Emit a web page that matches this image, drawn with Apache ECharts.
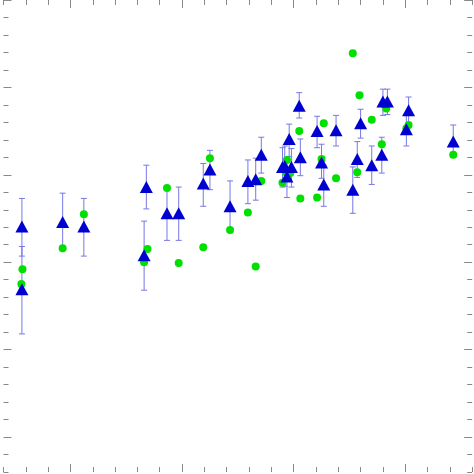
<!DOCTYPE html>
<html><head><meta charset="utf-8">
<script src="https://cdn.jsdelivr.net/npm/echarts@6/dist/echarts.min.js"></script>
<style>html,body{margin:0;padding:0;background:#fff}#c{width:474px;height:474px}</style>
</head><body><div id="c"></div>
<script>
// blue triangles with error bars: x, y, upper, lower
const triX  = [0.565,0.93,1.12,1.68,1.865,1.97,2.19,2.25,2.43,1.66,0.565,2.59,2.66,2.71,2.90,2.92,2.94,2.96,2.98,3.05,3.06,3.21,3.25,3.27,3.38,3.53,3.57,3.60,3.70,3.79,3.80,3.84,4.01,4.03,4.43];
const triY  = [2.41,2.46,2.41,2.86,2.56,2.56,2.90,3.06,2.64,2.08,1.69,2.93,2.95,3.23,3.09,3.10,2.98,3.41,3.09,3.79,3.20,3.50,3.14,2.89,3.51,2.83,3.18,3.59,3.11,3.23,3.84,3.84,3.52,3.74,3.38];
const triHi = [2.73,2.79,2.73,3.11,2.86,2.86,3.13,3.28,2.93,2.47,2.18,3.17,3.19,3.43,3.31,3.33,3.20,3.58,3.30,3.94,3.41,3.67,3.35,3.11,3.68,3.09,3.38,3.75,3.33,3.43,3.98,3.98,3.68,3.89,3.57];
const triLo = [2.07,2.14,2.07,2.61,2.25,2.25,2.64,2.83,2.35,1.68,1.18,2.67,2.71,3.02,2.86,2.87,2.74,3.21,2.86,3.65,2.99,3.31,2.96,2.64,3.33,2.56,2.97,3.42,2.89,3.02,3.68,3.69,3.33,3.58,3.20];
// green circles
const grnX = [1.12,1.865,2.25,2.43,0.93,0.57,0.56,1.69,1.66,1.97,2.19,2.66,2.59,2.71,2.90,2.94,2.93,2.97,3.05,3.06,3.27,3.25,3.21,3.38,3.53,3.59,3.57,3.70,3.79,3.83,4.03,4.01,4.43];
const grnY = [2.55,2.85,3.19,2.37,2.16,1.92,1.75,2.15,2.00,1.99,2.17,1.95,2.57,2.93,2.91,3.17,3.03,3.02,3.50,2.73,3.59,3.18,2.74,2.96,4.39,3.91,3.03,3.63,3.35,3.76,3.57,3.53,3.23];
// ticks
const xMinorTicks = [0.4,0.6,0.8,1.2,1.4,1.6,1.8,2.2,2.4,2.6,2.8,3.2,3.4,3.6,3.8,4.2,4.4,4.6];
const xMajorTicks = [1,2,3,4];
const yMinorTicks = [-0.4,-0.2,0.2,0.4,0.6,0.8,1.2,1.4,1.6,1.8,2.2,2.4,2.6,2.8,3.2,3.4,3.6,3.8,4.2,4.4,4.6,4.8];
const yMajorTicks = [0,1,2,3,4,5];

const XMIN=0.4, XMAX=4.6, YMIN=-0.4, YMAX=5.0;
const tickCol = '#888';
function ax(pos, vals, len, min, max){
  return {type:'value', position:pos, min:min, max:max, axisLine:{show:false, onZero:false}, splitLine:{show:false},
    axisLabel:{show:false}, axisTick:{show:true, inside:true, length:len, customValues:vals, lineStyle:{color:tickCol,width:1}}};
}
const xAxes = [ax('bottom',xMinorTicks,5,XMIN,XMAX), ax('bottom',xMajorTicks,8,XMIN,XMAX),
               ax('top',xMinorTicks,5,XMIN,XMAX), ax('top',xMajorTicks,8,XMIN,XMAX)];
const yAxes = [ax('left',yMinorTicks,5,YMIN,YMAX), ax('left',yMajorTicks,8,YMIN,YMAX),
               ax('right',yMinorTicks,5,YMIN,YMAX), ax('right',yMajorTicks,8,YMIN,YMAX)];

const errData = triX.map((x,i)=>[x, triLo[i], triHi[i]]);
const chart = echarts.init(document.getElementById('c'), null, {renderer:'canvas'});
chart.setOption({
  animation:false,
  grid:{left:3.5, right:1.8, top:0, bottom:2},
  xAxis:xAxes, yAxis:yAxes,
  series:[
    {type:'custom', xAxisIndex:0, yAxisIndex:0, data:errData, z:1,
     renderItem:function(params, api){
       const lo = api.coord([api.value(0), api.value(1)]);
       const hi = api.coord([api.value(0), api.value(2)]);
       const w = 3;
       const st = {stroke:'#7777e6', lineWidth:1};
       return {type:'group', children:[
         {type:'line', shape:{x1:lo[0],y1:lo[1],x2:hi[0],y2:hi[1]}, style:st},
         {type:'line', shape:{x1:lo[0]-w,y1:lo[1],x2:lo[0]+w,y2:lo[1]}, style:st},
         {type:'line', shape:{x1:hi[0]-w,y1:hi[1],x2:hi[0]+w,y2:hi[1]}, style:st}
       ]};
     }},
    {type:'scatter', xAxisIndex:0, yAxisIndex:0, z:2, symbol:'circle', symbolSize:8,
     itemStyle:{color:'#00e000', opacity:1}, data:grnX.map((x,i)=>[x,grnY[i]])},
    {type:'scatter', xAxisIndex:0, yAxisIndex:0, z:3, symbol:'triangle', symbolSize:[13,12],
     itemStyle:{color:'#0000d0', opacity:1}, data:triX.map((x,i)=>[x,triY[i]])}
  ]
});
</script></body></html>
